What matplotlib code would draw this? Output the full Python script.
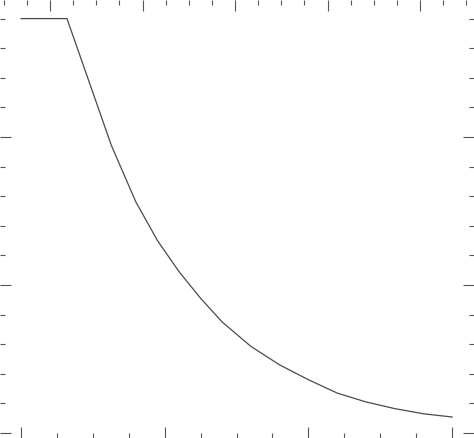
import matplotlib
matplotlib.use("Agg")
import matplotlib.pyplot as plt
from matplotlib.ticker import MultipleLocator

# curve
x_vals = [0, 3.2, 6.3, 8, 9.5, 11, 12.5, 14, 16, 18, 20, 22, 24, 26, 28, 30]
y_vals = [2.8, 2.8, 1.94, 1.56, 1.30, 1.09, 0.91, 0.75, 0.585,
          0.46, 0.36, 0.27, 0.21, 0.165, 0.13, 0.108]

fig = plt.figure(figsize=(4.74, 4.38), dpi=100)
ax = fig.add_axes([0, 0, 1, 1])

ax.plot(x_vals, y_vals, color='#4a4a4a', linewidth=0.9)

ax.set_xlim(-21 / 14.37, (474 - 21) / 14.37)
ax.set_ylim((433 - 438) / 148, 433 / 148)

ax.xaxis.set_major_locator(MultipleLocator(10))
ax.xaxis.set_minor_locator(MultipleLocator(2.5))
ax.yaxis.set_major_locator(MultipleLocator(1))
ax.yaxis.set_minor_locator(MultipleLocator(0.2))

tick_col = '#555555'
ax.tick_params(which='both', direction='in', left=True, right=True,
               bottom=True, top=False, labelleft=False, labelbottom=False,
               color=tick_col, width=0.8)
ax.tick_params(which='major', length=8)
ax.tick_params(which='minor', length=3.6)

# top axis has its own scale
ax2 = ax.twiny()
ax2.set_xlim(-50 / 92.5, (474 - 50) / 92.5)
ax2.xaxis.set_major_locator(MultipleLocator(1))
ax2.xaxis.set_minor_locator(MultipleLocator(0.25))
ax2.tick_params(which='both', direction='in', top=True, bottom=False,
                labeltop=False, labelbottom=False, color=tick_col, width=0.8)
ax2.tick_params(which='major', length=8)
ax2.tick_params(which='minor', length=3.6)

for a in (ax, ax2):
    for s in a.spines.values():
        s.set_visible(False)

fig.savefig('out.png', dpi=100)
